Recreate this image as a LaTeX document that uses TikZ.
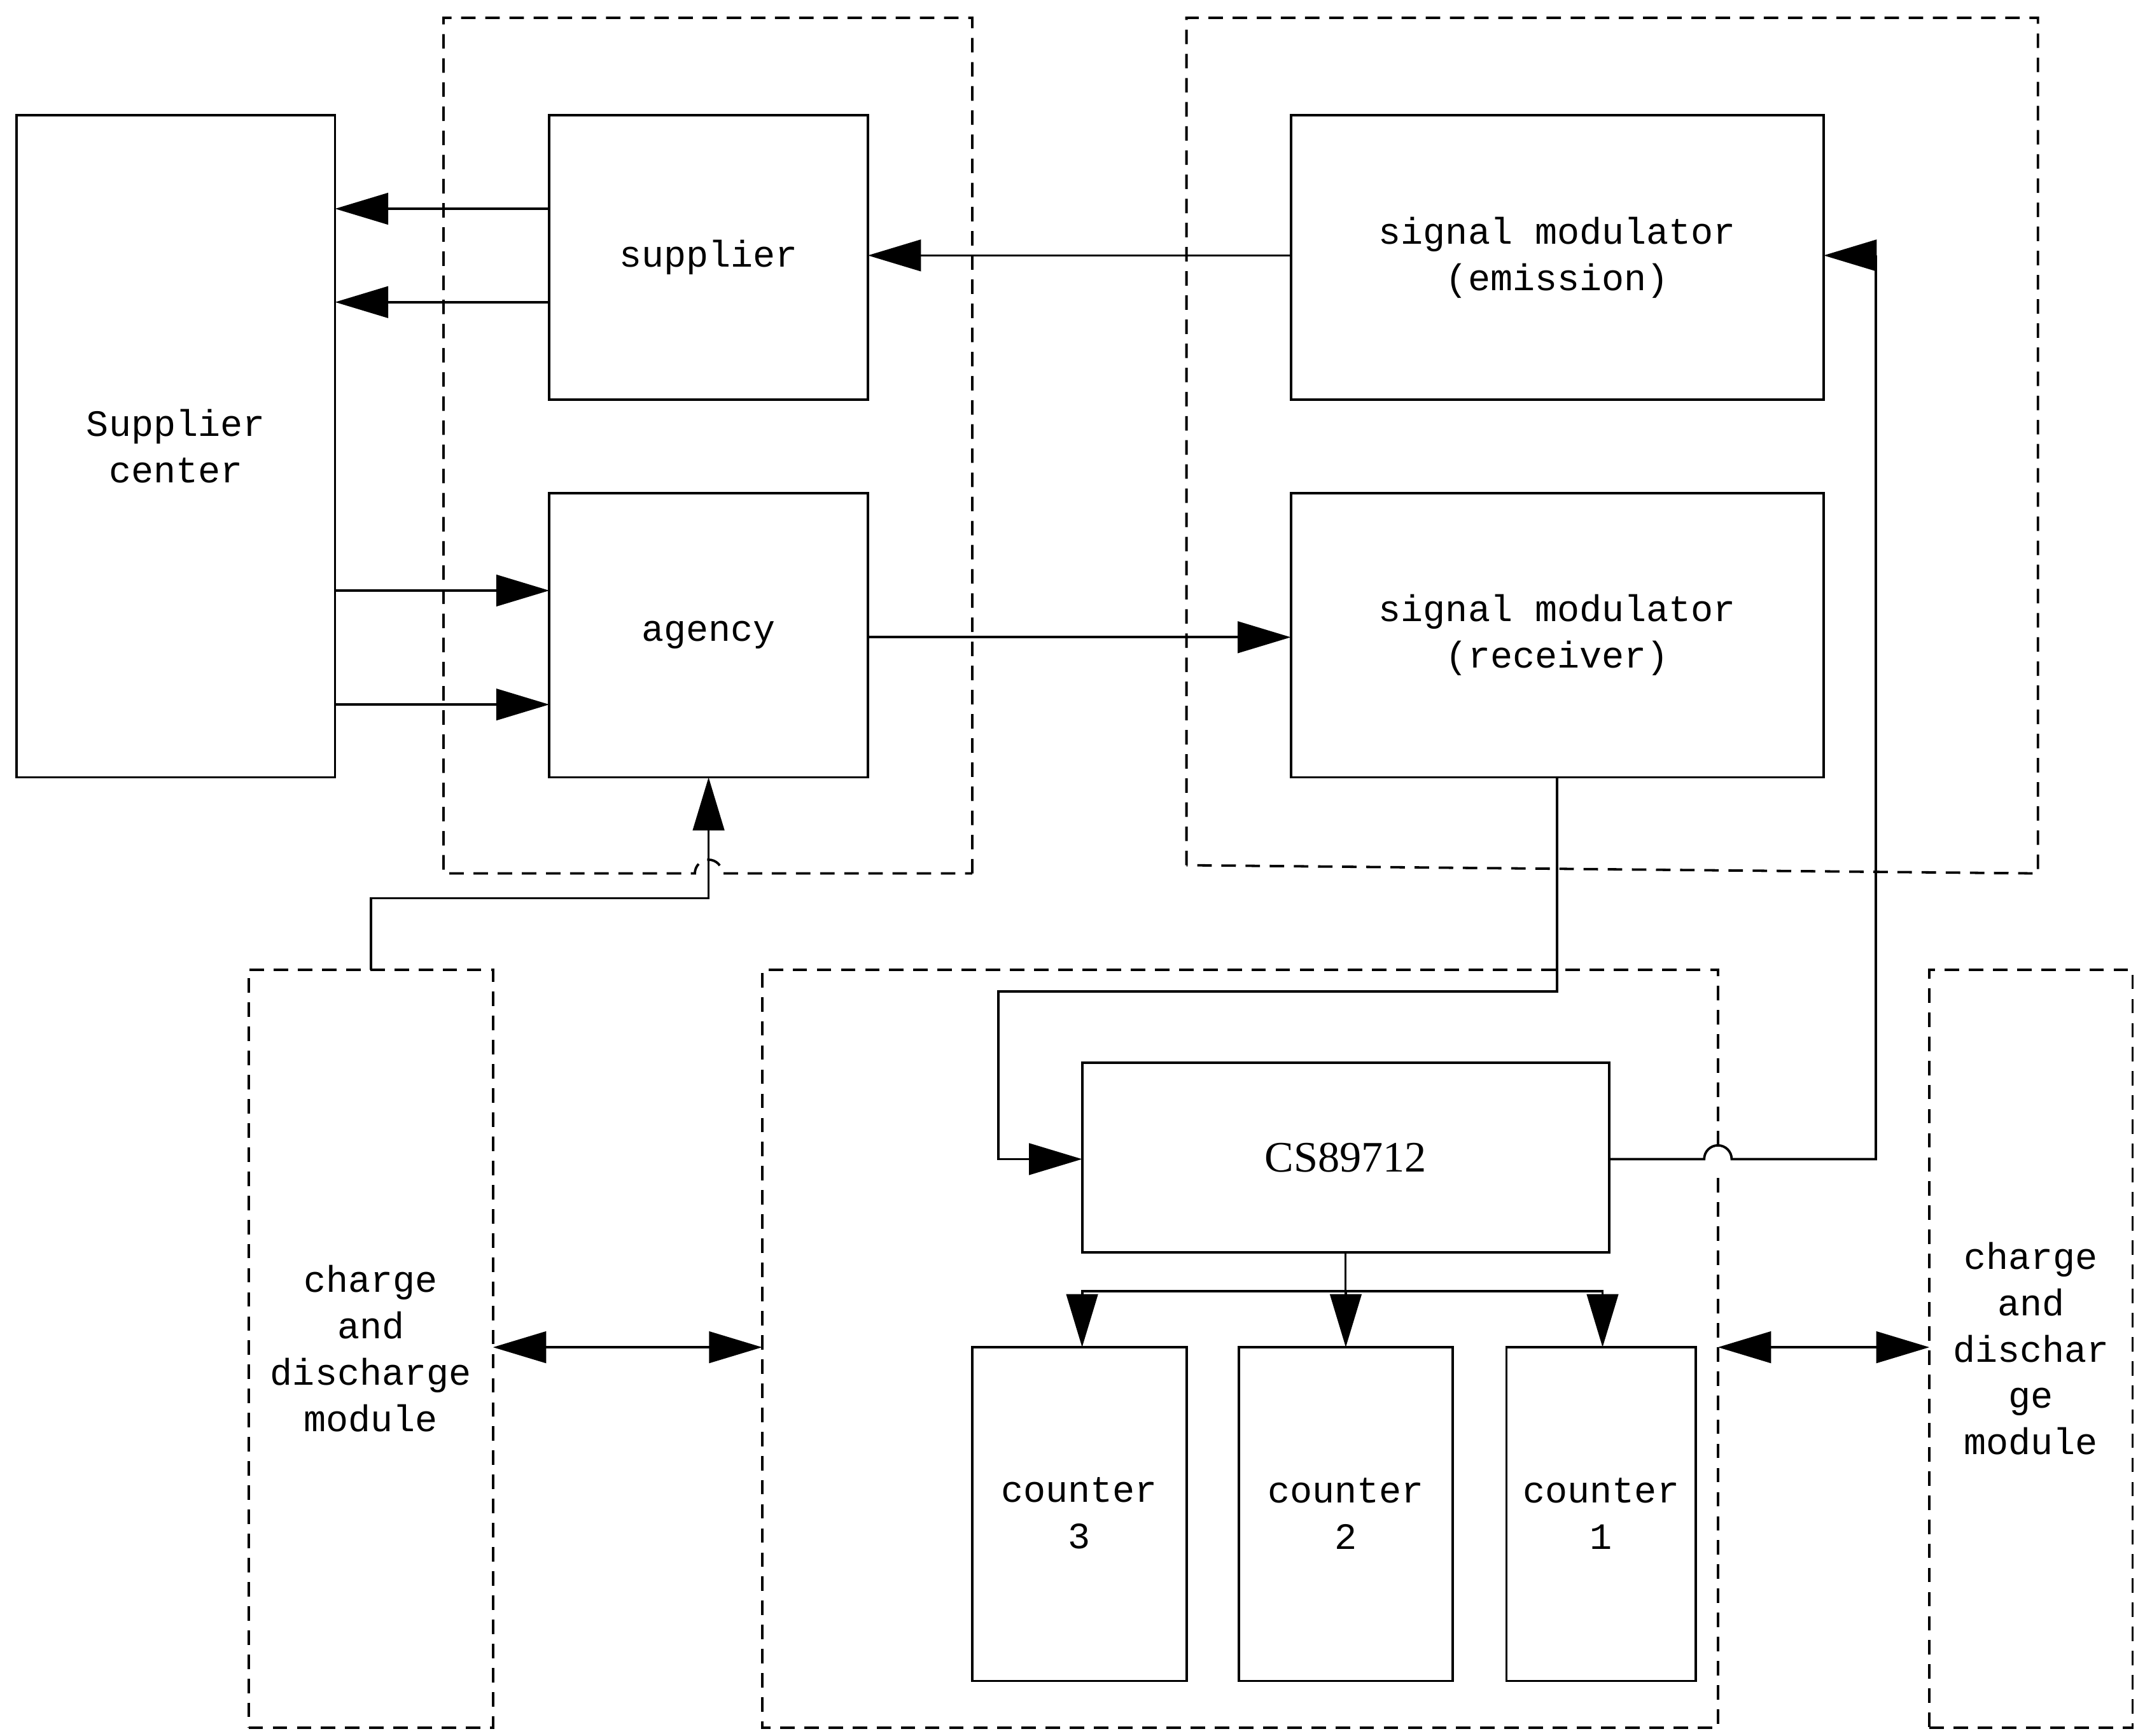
\documentclass[tikz,border=0pt]{standalone}
\usepackage{fontspec}
\setmainfont{Liberation Mono}
\newfontfamily\tms{Liberation Serif}
\usetikzlibrary{arrows.meta}
\begin{document}
\begin{tikzpicture}[x=0.01cm,y=-0.01cm,
  sz/.style 2 args={minimum width=#1*0.01cm,minimum height=#2*0.01cm,inner sep=0pt,outer sep=0pt},
  box/.style={draw,line width=0.5pt},
  dbox/.style={draw,dashed,line width=0.5pt,dash pattern=on 3pt off 2pt},
  txt/.style={font=\fontsize{7.7}{9.6}\selectfont,align=center},
  arr/.style={line width=0.5pt,-{Triangle[length=11pt,width=6.5pt]}},
  darr/.style={line width=0.5pt,{Triangle[length=11pt,width=6.5pt]}-{Triangle[length=11pt,width=6.5pt]}}]
\useasboundingbox (0,0) rectangle (1562,1264);
% dashed groups
\draw[dbox] (708,636) -- (708,13) -- (323,13) -- (323,636) -- (506,636) arc[start angle=180,end angle=360,radius=10] -- (708,636);
\draw[dbox] (864,630) -- (864,13) -- (1484,13) -- (1484,636) -- cycle;
\draw[dbox] (1251,834) -- (1251,706) -- (555,706) -- (555,1258) -- (1251,1258) -- (1251,854);
\node[dbox,sz={178}{552}] (chl) at (270,982) {};
\node[dbox,sz={148}{552}] (chr) at (1479,982) {};
\node[sz={696}{552}] (big) at (903,982) {};
% boxes
\node[box,sz={232}{482}] (sc) at (128,325) {};
\node[txt] at (128,325) {Supplier\\center};
\node[box,sz={232}{207}] (sup) at (516,187.5) {};
\node[txt] at (516,187.5) {supplier};
\node[box,sz={232}{207}] (ag) at (516,462.5) {};
\node[txt] at (516,462.5) {agency};
\node[box,sz={388}{207}] (em) at (1134,187.5) {};
\node[txt] at (1134,187.5) {signal modulator\\(emission)};
\node[box,sz={388}{207}] (rc) at (1134,462.5) {};
\node[txt] at (1134,462.5) {signal modulator\\(receiver)};
\node[box,sz={384}{138}] (cs) at (980,843) {};
\node[font=\tms\fontsize{9}{11}\selectfont] at (980,843) {CS89712};
\node[box,sz={156}{243}] (c3) at (786,1102.5) {};
\node[txt] at (786,1102) {counter\\3};
\node[box,sz={156}{243}] (c2) at (980,1102.5) {};
\node[txt] at (980,1102) {counter\\2};
\node[box,sz={138}{243}] (c1) at (1166,1102.5) {};
\node[txt] at (1166,1102) {counter\\1};
\node[txt] at (270,982) {charge\\and\\discharge\\module};
\node[txt] at (1479,982) {charge\\and\\dischar\\ge\\module};
% connectors
\draw[arr] (sup.west |- 0,152) -- (sc.east |- 0,152);
\draw[arr] (sup.west |- 0,220) -- (sc.east |- 0,220);
\draw[arr] (em.west |- 0,186) -- (sup.east |- 0,186);
\draw[arr] (sc.east |- 0,430) -- (ag.west |- 0,430);
\draw[arr] (sc.east |- 0,513) -- (ag.west |- 0,513);
\draw[arr] (ag.east |- 0,464) -- (rc.west |- 0,464);
\draw[arr] (chl.north) -- (270,654) -- (516,654) -- (ag.south);
\draw[arr] (rc.south) -- (1134,722) -- (727,722) -- (727,844) -- (cs.west |- 0,844);
\draw[arr] (cs.east |- 0,844) -- (1241,844) arc[start angle=180,end angle=360,radius=10] -- (1366,844) -- (1366,186) -- (em.east |- 0,186);
\draw (cs.south) -- (980,940);
\draw[arr] (980,940) -- (788,940) -- (c3.north -| 788,0);
\draw[arr] (980,940) -- (c2.north);
\draw[arr] (980,940) -- (1167,940) -- (c1.north -| 1167,0);
\draw[darr] (chl.east |- 0,981) -- (big.west |- 0,981);
\draw[darr] (big.east |- 0,981) -- (chr.west |- 0,981);
\end{tikzpicture}
\end{document}
